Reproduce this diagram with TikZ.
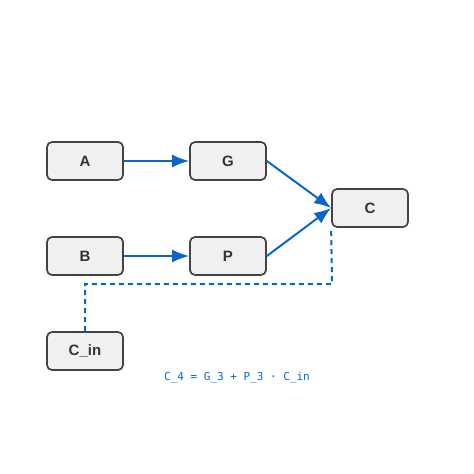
\documentclass[tikz,border=0pt]{standalone}
\usepackage{fontspec}
\setmainfont{Liberation Sans}
\newfontfamily\monofont{DejaVu Sans Mono}
\usetikzlibrary{arrows.meta}
\definecolor{boxfill}{HTML}{F0F0F0}
\definecolor{boxdraw}{HTML}{444444}
\definecolor{linkblue}{HTML}{0A66C8}
\begin{document}
\begin{tikzpicture}[x=1pt,y=-1pt,
  blockbox/.style={draw=boxdraw, fill=boxfill, line width=1.7pt, rounded corners=5pt,
    minimum width=76pt, minimum height=38pt, inner sep=0pt,
    font=\fontsize{15}{17}\selectfont\bfseries, text=black!80},
  flow/.style={draw=linkblue, line width=2pt, -{Latex[length=17pt,width=13pt]}},
  carry/.style={draw=linkblue, line width=2pt, dash pattern=on 5pt off 4pt}]
\useasboundingbox (0,0) rectangle (474,474);
\node[blockbox] (A) at (85,161) {A};
\node[blockbox] (G) at (228,161) {G};
\node[blockbox] (B) at (85,256) {B};
\node[blockbox] (P) at (228,256) {P};
\node[blockbox] (C) at (370,208) {C};
\node[blockbox] (Cin) at (85,351) {C\_in};
\draw[flow] (A.east) -- (G.west);
\draw[flow] (B.east) -- (P.west);
\draw[flow] (G.east) -- (C.west);
\draw[flow] (P.east) -- (C.west);
\draw[carry] (Cin.north) -- (85,284) -- (332,284) -- (C.south west);
\node[text=linkblue, font=\monofont\fontsize{11}{13}\selectfont] (eq) at (237,378) {C\_4 = G\_3 + P\_3 · C\_in};
\end{tikzpicture}
\end{document}
